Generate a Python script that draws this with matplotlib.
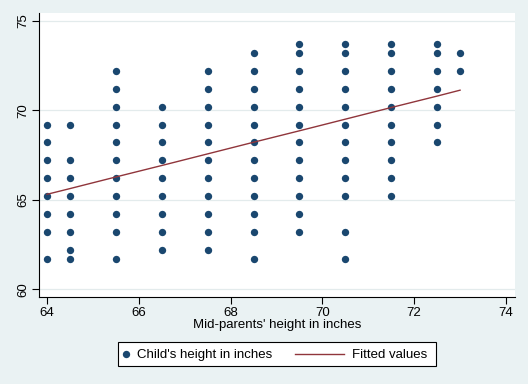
import matplotlib
matplotlib.use("Agg")
import matplotlib.pyplot as plt
from matplotlib.lines import Line2D
from matplotlib.patches import Rectangle

# midparent height -> distinct child heights seen in that column
parent_x = [64.0, 64.5, 65.5, 66.5, 67.5, 68.5, 69.5, 70.5, 71.5, 72.5, 73.0]
child_y = [
    [61.7, 63.2, 64.2, 65.2, 66.2, 67.2, 68.2, 69.2],
    [61.7, 62.2, 63.2, 64.2, 65.2, 66.2, 67.2, 69.2],
    [61.7, 63.2, 64.2, 65.2, 66.2, 67.2, 68.2, 69.2, 70.2, 71.2, 72.2],
    [62.2, 63.2, 64.2, 65.2, 66.2, 67.2, 68.2, 69.2, 70.2],
    [62.2, 63.2, 64.2, 65.2, 66.2, 67.2, 68.2, 69.2, 70.2, 71.2, 72.2],
    [61.7, 63.2, 64.2, 65.2, 66.2, 67.2, 68.2, 69.2, 70.2, 71.2, 72.2, 73.2],
    [63.2, 64.2, 65.2, 66.2, 67.2, 68.2, 69.2, 70.2, 71.2, 72.2, 73.2, 73.7],
    [61.7, 63.2, 65.2, 66.2, 67.2, 68.2, 69.2, 70.2, 71.2, 72.2, 73.2, 73.7],
    [65.2, 66.2, 67.2, 68.2, 69.2, 70.2, 71.2, 72.2, 73.2, 73.7],
    [68.2, 69.2, 70.2, 71.2, 72.2, 73.2, 73.7],
    [72.2, 73.2],
]
# fitted values at each midparent height
fitted_y = [65.30, 65.62, 66.27, 66.91, 67.56, 68.21, 68.85, 69.50, 70.15, 70.79, 71.12]

x_ticks = [64, 66, 68, 70, 72, 74]
y_ticks = [60, 65, 70, 75]
legend_labels = ["Child's height in inches", "Fitted values"]

BG = "#EAF2F3"
NAVY = "#1A476F"
MAROON = "#90353B"
W, H = 528.0, 384.0

plt.rcParams["font.family"] = ["Liberation Sans", "DejaVu Sans"]

fig = plt.figure(figsize=(W / 100, H / 100), dpi=100, facecolor=BG)
ax = fig.add_axes([0.0733, 0.226, 0.9015, 0.740])
ax.set_facecolor("white")

xs, ys = [], []
for px, col in zip(parent_x, child_y):
    xs += [px] * len(col)
    ys += col
ax.scatter(xs, ys, s=28, color=NAVY, linewidths=0, zorder=3)
ax.plot(parent_x, fitted_y, color=MAROON, lw=1.0, zorder=4)

ax.set_xlim(63.82, 74.19)
ax.set_ylim(59.55, 75.43)
ax.set_xticks(x_ticks)
ax.set_yticks(y_ticks)
ax.grid(axis="y", color="#E3EBEC", lw=0.9, zorder=0)
for s in ["top", "right"]:
    ax.spines[s].set_visible(False)
for s in ["left", "bottom"]:
    ax.spines[s].set_color("black")
    ax.spines[s].set_linewidth(0.8)
ax.tick_params(direction="out", length=5, width=0.8, labelsize=9.5, colors="black", pad=2)
for lab in ax.get_yticklabels():
    lab.set_rotation(90)
    lab.set_va("center")
ax.set_xlabel("Mid-parents' height in inches", fontsize=9.5, labelpad=0)

# legend drawn by hand (marker key is narrow, line key is long, as in Stata)
def fx(p): return p / W
def fy(p): return 1 - p / H

fig.add_artist(Rectangle((fx(117.5), fy(365.5)), fx(435.5) - fx(117.5), fy(341.5) - fy(365.5),
                         transform=fig.transFigure, facecolor="white", edgecolor="black", lw=0.8))
ly = fy(353.5)
base = fy(358.3)
fig.add_artist(Line2D([fx(126)], [ly], marker="o", ls="none", color=NAVY, markersize=5.3,
                      markeredgewidth=0, transform=fig.transFigure))
fig.text(fx(137), base, legend_labels[0], fontsize=9.5, va="baseline", ha="left")
fig.add_artist(Line2D([fx(294.5), fx(344)], [ly, ly], color=MAROON, lw=1.0,
                      transform=fig.transFigure))
fig.text(fx(352.5), base, legend_labels[1], fontsize=9.5, va="baseline", ha="left")

fig.savefig("out.png", dpi=100, facecolor=BG)
